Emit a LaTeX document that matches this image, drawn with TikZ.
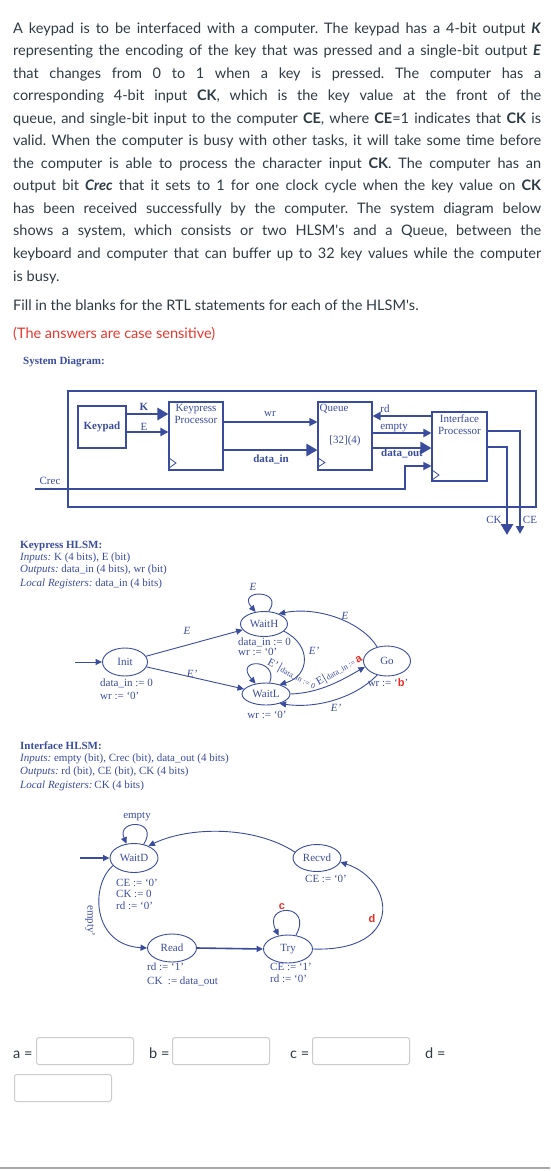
\documentclass[tikz,border=0pt]{standalone}
\usepackage{fontspec}
\setmainfont{Liberation Serif}
\newfontfamily\lato{Lato}
\newfontfamily\arl{Liberation Sans}
\usetikzlibrary{arrows.meta,shapes.geometric}
\definecolor{db}{HTML}{3A4C9E}
\definecolor{txt}{HTML}{2D3B45}
\definecolor{ansred}{HTML}{EE2B24}
\definecolor{redtxt}{HTML}{E8382E}
\definecolor{boxgray}{HTML}{CCCCCC}
\definecolor{rulegray}{HTML}{AAAAAA}
\newcommand{\redl}[1]{{\arl\bfseries\color{ansred}#1}}
\frenchspacing
\tikzset{
  sysbox/.style={draw=db, line width=1.1pt, rectangle, inner sep=0pt, text=db},
  sysln/.style={draw=db, line width=1.2pt},
  sysmid/.style={draw=db, line width=2pt},
  syswide/.style={draw=db, line width=2.8pt},
  arrS/.style={-{Triangle[length=8pt,width=8pt]}},
  arrL/.style={-{Triangle[length=11pt,width=12pt]}},
  lbl/.style={text=db, inner sep=0pt, font=\fontsize{11}{12}\selectfont},
  stt/.style={ellipse, draw=db, line width=0.9pt, inner sep=0pt, text=db, font=\fontsize{11}{12}\selectfont},
  tr/.style={draw=db, line width=0.9pt, -{Triangle[length=6.5pt,width=6pt]}},
  ansbox/.style={draw=boxgray, line width=1pt, rounded corners=2.5pt, rectangle, inner sep=0pt, minimum width=97pt, minimum height=27pt},
  anslbl/.style={text=txt, inner sep=0pt, font=\lato\fontsize{14.5}{17}\selectfont}
}
\begin{document}
\begin{tikzpicture}[x=1pt,y=-1pt]
\useasboundingbox (0,0) rectangle (550,1171);
\fill[white] (0,0) rectangle (550,1171);

% ---------------- paragraph
\node[anchor=base west, inner sep=0pt, text=txt] (para) at (13,33) {\parbox[t]{528pt}{\lato\fontsize{14.5}{22.55}\selectfont\frenchspacing
A keypad is to be interfaced with a computer. The keypad has a 4-bit output \textbf{\textit{K}}\linebreak
representing the encoding of the key that was pressed and a single-bit output \textbf{\textit{E}}\linebreak
that changes from 0 to 1 when a key is pressed. The computer has a\linebreak
corresponding 4-bit input \textbf{CK}, which is the key value at the front of the\linebreak
queue, and single-bit input to the computer \textbf{CE}, where \textbf{CE}=1 indicates that \textbf{CK} is\linebreak
valid. When the computer is busy with other tasks, it will take some time before\linebreak
the computer is able to process the character input \textbf{CK}. The computer has an\linebreak
output bit \textbf{\textit{Crec}} that it sets to 1 for one clock cycle when the key value on \textbf{CK}\linebreak
has been received successfully by the computer. The system diagram below\linebreak
shows a system, which consists or two HLSM\textquotesingle s and a Queue, between the\linebreak
keyboard and computer that can buffer up to 32 key values while the computer\linebreak
is busy.}};
\node[anchor=base west, inner sep=0pt, text=txt, font=\lato\fontsize{14.5}{17}\selectfont] (fill) at (13,310) {Fill in the blanks for the RTL statements for each of the HLSM\textquotesingle s.};
\node[anchor=base west, inner sep=0pt, text=redtxt, font=\lato\fontsize{14.5}{17}\selectfont] (case) at (13,338) {(The answers are case sensitive)};

% ---------------- system diagram
\node[lbl, anchor=base west, font=\bfseries\fontsize{11}{12}\selectfont] (sdt) at (23,364) {System Diagram:};
\node[sysbox, minimum width=468pt, minimum height=116pt] (frame) at (302,449) {};
\node[sysbox, minimum width=48pt, minimum height=42pt, font=\bfseries\fontsize{11}{12}\selectfont] (keypad) at (102,427) {Keypad};
\node[sysbox, minimum width=54pt, minimum height=68pt] (kproc) at (196,436) {};
\node[lbl, anchor=north, align=center] (kproct) at (196,404.5) {Keypress\\Processor};
\node[sysbox, minimum width=54pt, minimum height=68pt] (queue) at (345,436) {};
\node[lbl, anchor=base west] (queuet) at (319.5,411) {Queue};
\node[lbl] (queuen) at (345,441) {[32](4)};
\node[sysbox, minimum width=55pt, minimum height=69pt] (iproc) at (459.5,446.5) {};
\node[lbl, anchor=north, align=center] (iproct) at (459.5,414.5) {Interface\\Processor};
% clock triangles
\draw[sysln, line width=0.8pt] (169,458) -- (176,463) -- (169,468);
\draw[sysln, line width=0.8pt] (318,458) -- (325,462.5) -- (318,467);
\draw[sysln, line width=0.8pt] (432,470) -- (439,475) -- (432,480);
% connectors
\draw[syswide, arrL] (keypad.east |- 0,414) -- (kproc.west |- 0,414);
\draw[sysmid, arrS] (keypad.east |- 0,432) -- (kproc.west |- 0,432);
\node[lbl, font=\bfseries\fontsize{11}{12}\selectfont] (kl) at (144,407) {K};
\node[lbl] (el) at (144,427) {E};
\draw[sysln, arrS] (kproc.east |- 0,422) -- (queue.west |- 0,422);
\node[lbl] (wrl) at (270,414) {wr};
\draw[syswide, arrL] (kproc.east |- 0,450) -- (queue.west |- 0,450);
\node[lbl, anchor=base, font=\bfseries\fontsize{11}{12}\selectfont] (dil) at (271,462) {data\_in};
\draw[sysmid, arrS] (iproc.west |- 0,416) -- (queue.east |- 0,416);
\node[lbl] (rdl) at (385,409) {rd};
\draw[sysmid, arrS] (queue.east |- 0,433) -- (iproc.west |- 0,433);
\node[lbl, anchor=base] (eml) at (394,429) {empty};
\draw[syswide, arrL] (queue.east |- 0,448) -- (iproc.west |- 0,448);
\node[lbl, anchor=base, font=\bfseries\fontsize{11}{12}\selectfont] (dol) at (402,456) {data\_out};
\coordinate (crecS) at (35,489);
\draw[sysln, arrS] (crecS) -- (405,489) |- (iproc.west |- 0,466);
\node[lbl] (crecl) at (50,481) {Crec};
\coordinate (ceE) at (520,534);
\coordinate (ckE) at (507,535);
\draw[sysmid, arrS] (iproc.east |- 0,431) -| (ceE);
\draw[syswide, arrL] (iproc.east |- 0,447) -| (ckE);
\node[lbl] (ckl) at (494,520) {CK};
\node[lbl] (cel) at (530,520) {CE};

% ---------------- keypress HLSM
\node[lbl, anchor=base west] (kh1) at (20,548) {\textbf{Keypress HLSM:}};
\node[lbl, anchor=base west] (kh2) at (20,560) {\textit{Inputs:} K (4 bits), E (bit)};
\node[lbl, anchor=base west] (kh3) at (20,572) {\textit{Outputs:} data\_in (4 bits), wr (bit)};
\node[lbl, anchor=base west] (kh4) at (20,586.5) {\textit{Local Registers:} data\_in (4 bits)};

\node[stt, minimum width=45pt, minimum height=28pt] (init) at (125,662) {Init};
\node[stt, minimum width=47pt, minimum height=25pt] (waith) at (264,624) {WaitH};
\node[stt, minimum width=48pt, minimum height=22pt] (waitl) at (266,694) {WaitL};
\node[stt, minimum width=47pt, minimum height=30pt] (go) at (387,661) {Go};
\coordinate (initS) at (75,662);
\draw[tr] (initS) -- (init.west);
\node[lbl, anchor=base west] (initt1) at (100,686) {data\_in := 0};
\node[lbl, anchor=base west] (initt2) at (100,699) {wr := ‘0’};
\node[lbl, anchor=base west] (waitht1) at (238,645.5) {data\_in := 0};
\node[lbl, anchor=base west] (waitht2) at (238,655.5) {wr := ‘0’};
\node[lbl, anchor=base] (waitlt) at (267,718.5) {wr := ‘0’};
\node[lbl, anchor=base] (got) at (388,686) {wr := ‘\redl{b}’};
\draw[tr] (init) -- (waith);
\draw[tr] (init) -- (waitl);
\node[lbl, font=\itshape\fontsize{11}{12}\selectfont] (l1) at (187,631) {E};
\node[lbl, font=\itshape\fontsize{11}{12}\selectfont] (l2) at (192,674) {E’};
\draw[tr] (waith.70) .. controls (285,589) and (236,589) .. (waith.125);
\node[lbl, font=\itshape\fontsize{11}{12}\selectfont] (l3) at (253,587) {E};
\draw[tr] (waitl.72) .. controls (279,658) and (233,658) .. (waitl.135);
\draw[tr] (waith.-20) .. controls (312,645) and (310,676) .. (waitl.35);
\node[lbl, font=\itshape\fontsize{11}{12}\selectfont] (l4) at (314,651) {E’};
\node[lbl, rotate=-28] (l5) at (292,674) {E’\,\rule[-2pt]{0.6pt}{11pt}\,{\fontsize{8}{9}\selectfont data\_in := 0}};
\draw[tr] (waitl.east) .. controls (320,693) and (342,680) .. (go.195);
\node[lbl, rotate=30] (l6) at (339,670) {E\,\rule[-2pt]{0.6pt}{11pt}\,{\fontsize{8}{9}\selectfont data\_in :=}\,\redl{a}};
\draw[tr] (go.125) .. controls (362,622) and (318,606) .. (waith.35);
\node[lbl, font=\itshape\fontsize{11}{12}\selectfont] (l7) at (345,616) {E};
\draw[tr] (go.235) .. controls (356,697) and (318,709) .. (waitl.-35);
\node[lbl, font=\itshape\fontsize{11}{12}\selectfont] (l8) at (336,708) {E’};

% ---------------- interface HLSM
\node[lbl, anchor=base west] (ih1) at (20,749) {\textbf{Interface HLSM:}};
\node[lbl, anchor=base west] (ih2) at (20,761.5) {\textit{Inputs:} empty (bit), Crec (bit), data\_out (4 bits)};
\node[lbl, anchor=base west] (ih3) at (20,774.5) {\textit{Outputs:} rd (bit), CE (bit), CK (4 bits)};
\node[lbl, anchor=base west] (ih4) at (20,788) {\textit{Local Registers:}\,CK (4 bits)};

\node[stt, minimum width=48pt, minimum height=29pt] (waitd) at (134,858) {WaitD};
\node[stt, minimum width=49pt, minimum height=28pt] (read) at (172,948) {Read};
\node[stt, minimum width=49pt, minimum height=28pt] (try) at (288,949) {Try};
\node[stt, minimum width=48pt, minimum height=27pt] (recvd) at (317,858) {Recvd};
\coordinate (waitdS) at (80,858);
\draw[tr, line width=1.1pt] (waitdS) -- (waitd.west);
\draw[tr] (waitd.55) .. controls (160,819) and (116,819) .. (waitd.118);
\node[lbl] (el1) at (137,817) {empty};
\node[lbl, anchor=base west] (wdt1) at (116,886) {CE := ‘0’};
\node[lbl, anchor=base west] (wdt2) at (116,897.5) {CK := 0};
\node[lbl, anchor=base west] (wdt3) at (116,909.5) {rd := ‘0’};
\draw[tr] (waitd.200) .. controls (90,885) and (92,945) .. (read.west);
\node[lbl, rotate=-90] (el2) at (90,921) {empty’};
\draw[tr, line width=1.6pt] (read.east) -- (try.west);
\node[lbl, anchor=base west] (rdt1) at (147,970.5) {rd := ‘1’};
\node[lbl, anchor=base west] (rdt2) at (147,984.5) {CK\ \ := data\_out};
\draw[tr] (try.60) .. controls (314,903) and (262,903) .. (try.125);
\node[lbl] (cl) at (282,907) {\redl{c}};
\node[lbl, anchor=base west] (tyt1) at (270,970.5) {CE := ‘1’};
\node[lbl, anchor=base west] (tyt2) at (270,982.5) {rd := ‘0’};
\draw[tr] (try.east) .. controls (405,952) and (395,880) .. (recvd.-10);
\node[lbl] (dl) at (372,919) {\redl{d}};
\node[lbl, anchor=base] (rvt) at (326,882.5) {CE := ‘0’};
\draw[tr] (recvd.165) .. controls (255,826) and (190,826) .. (waitd.40);

% ---------------- answer boxes
\node[anslbl, anchor=base west] (al) at (13,1058) {a =};
\node[ansbox, anchor=north west] (boxa) at (36,1037) {};
\node[anslbl, anchor=base west] (bl) at (149,1058) {b =};
\node[ansbox, anchor=north west] (boxb) at (172,1037) {};
\node[anslbl, anchor=base west] (cl2) at (290,1058) {c =};
\node[ansbox, anchor=north west] (boxc) at (312,1037) {};
\node[anslbl, anchor=base west] (dl2) at (425,1058) {d =};
\node[ansbox, anchor=north west] (boxd) at (14,1074) {};
\draw[rulegray, line width=2pt] (0,1168) -- (550,1168);
\end{tikzpicture}
\end{document}
